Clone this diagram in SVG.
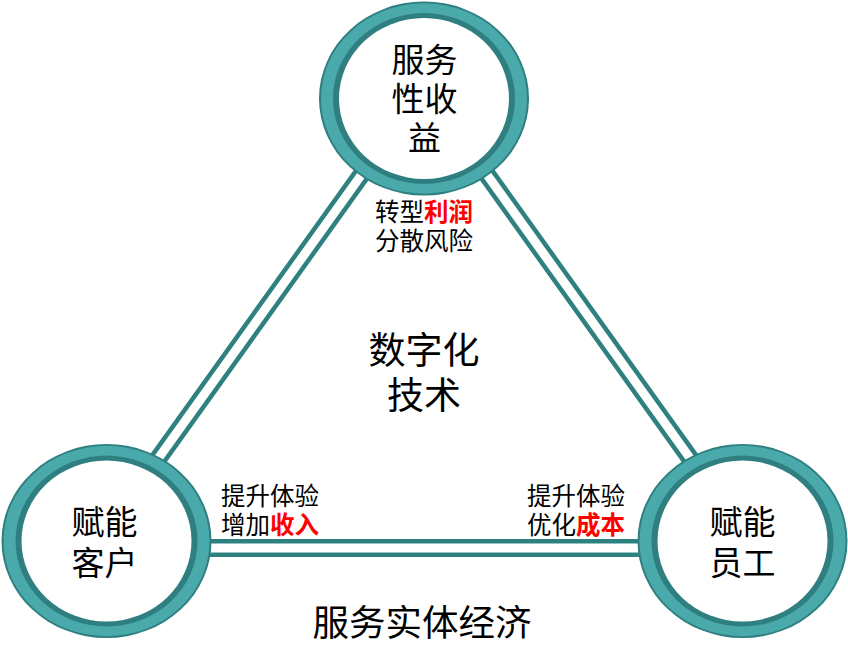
<svg xmlns="http://www.w3.org/2000/svg" width="848" height="669" viewBox="0 0 848 669">
<style>
.t{font-family:"Noto Sans CJK SC","Noto Sans",sans-serif;fill:#000;}
.big{font-size:33px;}
.mid{font-size:37px;}
.btm{font-size:36.5px;}
.sm{font-size:24.5px;}
.red{fill:#ff0000;font-weight:bold;}
.lo{stroke:#2f8080;stroke-width:18;fill:none;}
.li{stroke:#ffffff;stroke-width:9;fill:none;}
.e1{fill:#2f7f80;}
.e2{fill:#4aa9ab;}
.e3{fill:#2f7f80;}
.e4{fill:#ffffff;}
</style>
<defs>
<g id="ring">
<ellipse class="e1" cx="0" cy="0" rx="105" ry="97"/>
<ellipse class="e2" cx="0" cy="0" rx="103" ry="95.2"/>
<ellipse class="e3" cx="0" cy="0" rx="91" ry="85.5"/>
<ellipse class="e4" cx="0" cy="0" rx="85" ry="80.5"/>
</g>
</defs>
<rect width="848" height="669" fill="#ffffff"/>
<g id="connectors">
<line class="lo" x1="150" y1="470" x2="372" y2="160"/>
<line class="li" x1="150" y1="470" x2="372" y2="160"/>
<line class="lo" x1="698.5" y1="470" x2="476.5" y2="160"/>
<line class="li" x1="698.5" y1="470" x2="476.5" y2="160"/>
<line class="lo" x1="150" y1="548" x2="700" y2="548"/>
<line class="li" x1="150" y1="548" x2="700" y2="548"/>
</g>
<g id="node-top">
<use href="#ring" x="424" y="98.5"/>
<text class="t big" text-anchor="middle" x="424.5" y="72"><tspan x="424.5" y="72">服务</tspan><tspan x="424.5" y="111">性收</tspan><tspan x="424.5" y="150">益</tspan></text>
</g>
<g id="node-left">
<use href="#ring" x="106.5" y="541"/>
<text class="t big" text-anchor="middle" x="104.5" y="534"><tspan x="104.5" y="534">赋能</tspan><tspan x="104.5" y="575">客户</tspan></text>
</g>
<g id="node-right">
<use href="#ring" x="742.5" y="541"/>
<text class="t big" text-anchor="middle" x="742.5" y="534"><tspan x="742.5" y="534">赋能</tspan><tspan x="742.5" y="575">员工</tspan></text>
</g>
<g id="label-top">
<text class="t sm" text-anchor="middle" x="424" y="221"><tspan x="424" y="221">转型<tspan class="red">利润</tspan></tspan><tspan x="424" y="250">分散风险</tspan></text>
</g>
<g id="label-left">
<text class="t sm" x="221" y="505"><tspan x="221" y="505">提升体验</tspan><tspan x="221" y="534">增加<tspan class="red">收入</tspan></tspan></text>
</g>
<g id="label-right">
<text class="t sm" x="527" y="505"><tspan x="527" y="505">提升体验</tspan><tspan x="527" y="534">优化<tspan class="red">成本</tspan></tspan></text>
</g>
<g id="center">
<text class="t mid" text-anchor="middle" x="424" y="364"><tspan x="424" y="364">数字化</tspan><tspan x="424" y="409">技术</tspan></text>
</g>
<g id="bottom">
<text class="t btm" text-anchor="middle" x="422" y="636">服务实体经济</text>
</g>
</svg>
